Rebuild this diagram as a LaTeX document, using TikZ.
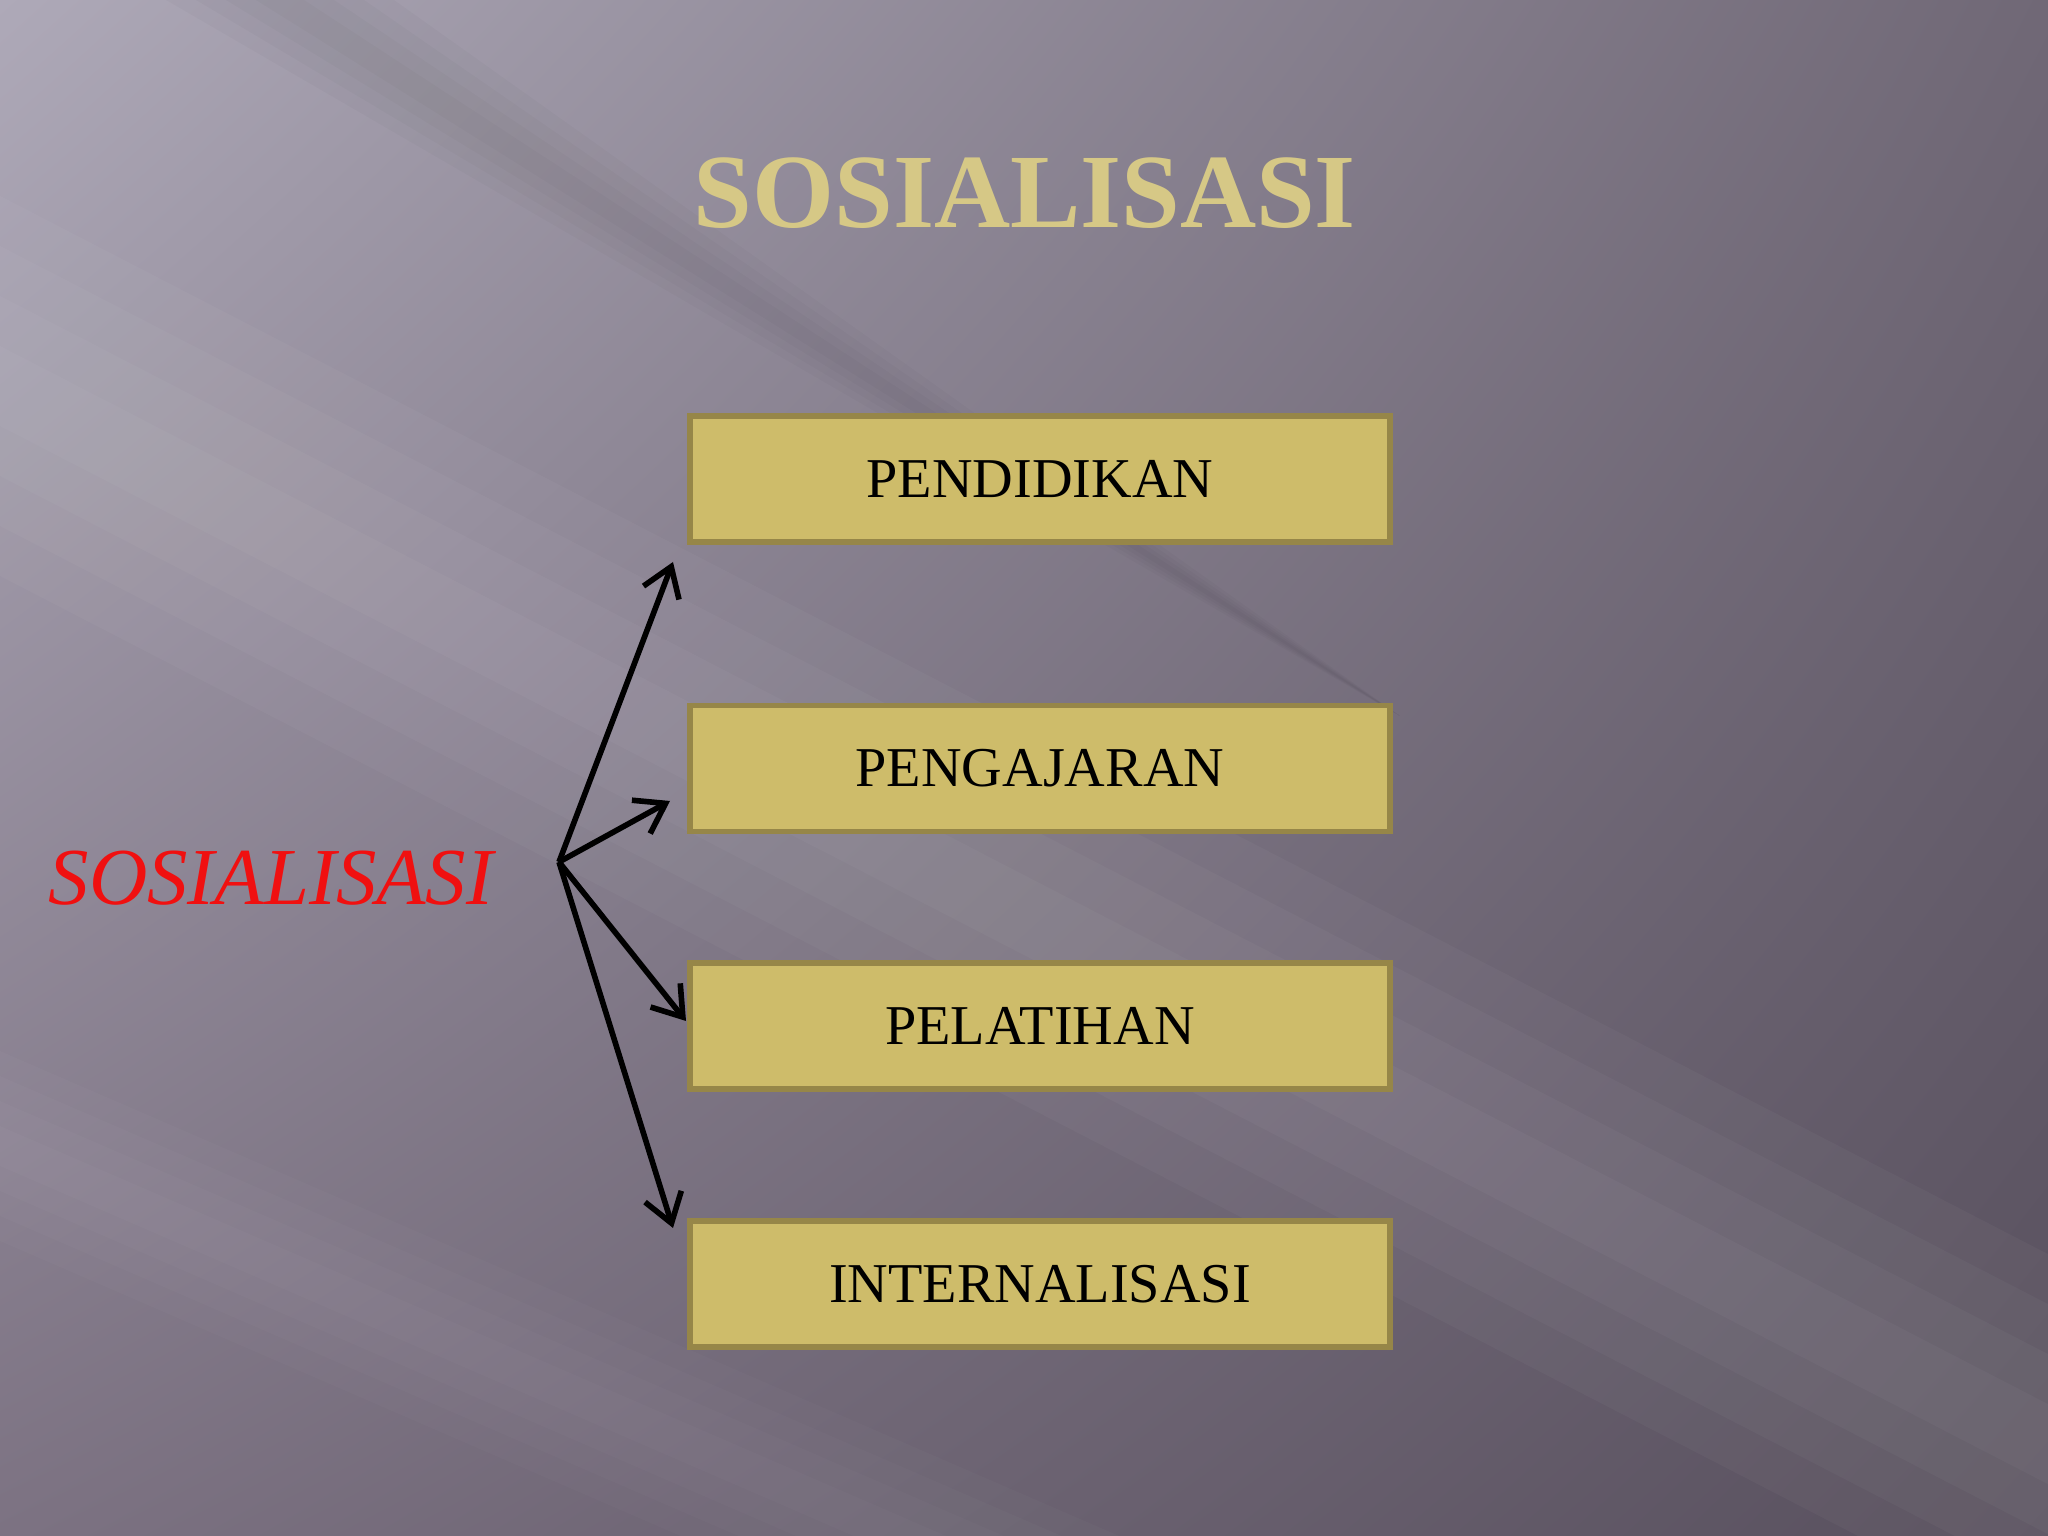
\documentclass[tikz,border=0pt]{standalone}
\usepackage{fontspec}
\setmainfont{Liberation Serif}
\usepackage{tikz}
\usetikzlibrary{positioning, arrows.meta, shadings}
\definecolor{boxgold}{RGB}{206,188,106}
\definecolor{boxedge}{RGB}{150,134,72}
\definecolor{titlegold}{RGB}{214,200,134}
\definecolor{redtext}{RGB}{240,16,16}
\definecolor{bgul}{RGB}{174,169,184}
\definecolor{bgur}{RGB}{112,104,118}
\definecolor{bgll}{RGB}{124,114,130}
\definecolor{bglr}{RGB}{88,80,94}
\tikzset{
>={Straight Barb[length=2.8mm, width=3.8mm]}, % open arrow heads like the slide
node distance=1.58cm, % gap between the boxes. Change if necessary.
topic/.style={draw=boxedge, line width=1.6pt, fill=boxgold, minimum width=7.0cm, minimum height=1.26cm, font=\fontsize{16}{18}\selectfont}, % the gold boxes
link/.style={->, line width=1.6pt, black}, % the arrows
}
\begin{document}
\begin{tikzpicture}
      % background
      \useasboundingbox (0,0) rectangle (20.48,15.36);
      \shade[upper left=bgul, upper right=bgur, lower left=bgll, lower right=bglr] (0,0) rectangle (20.48,15.36);
      \foreach \w in {0.4,0.9,1.4,1.9} {
        \fill[white, opacity=0.03] (0,11.5+\w) -- (0,11.5-\w) -- (24,-0.9-\w) -- (24,-0.9+\w) -- cycle;
        \fill[white, opacity=0.02] (0,3.9+0.5*\w) -- (0,3.9-0.5*\w) -- (12,-1.3-0.5*\w) -- (12,-1.3+0.5*\w) -- cycle;
        \fill[black, opacity=0.02] (2.8-0.6*\w,15.36) -- (2.8+0.6*\w,15.36) -- (14,8.2) -- cycle;
      }

      \node[text=titlegold, font=\bfseries\fontsize{30}{34}\selectfont] (title) at (10.25,13.43) {SOSIALISASI};
      \node[text=redtext, font=\itshape\fontsize{23}{26}\selectfont] (sosialisasi) at (2.71,6.58) {SOSIALISASI};

      \node[topic] (pendidikan) at (10.40,10.57) {PENDIDIKAN};
      \node[topic, below=of pendidikan] (pengajaran) {PENGAJARAN};
      \node[topic, below=1.26cm of pengajaran] (pelatihan) {PELATIHAN};
      \node[topic, below=1.26cm of pelatihan] (internalisasi) {INTERNALISASI};

      \coordinate (fork) at (5.59,6.74);
      \coordinate (tip1) at (6.73,9.74);
      \coordinate (tip2) at (6.70,7.35);
      \coordinate (tip3) at (6.86,5.15);
      \coordinate (tip4) at (6.73,3.08);

      \path (fork) edge[link] (tip1)
      (fork) edge[link] (tip2)
      (fork) edge[link] (tip3)
      (fork) edge[link] (tip4);
    \end{tikzpicture}
\end{document}
